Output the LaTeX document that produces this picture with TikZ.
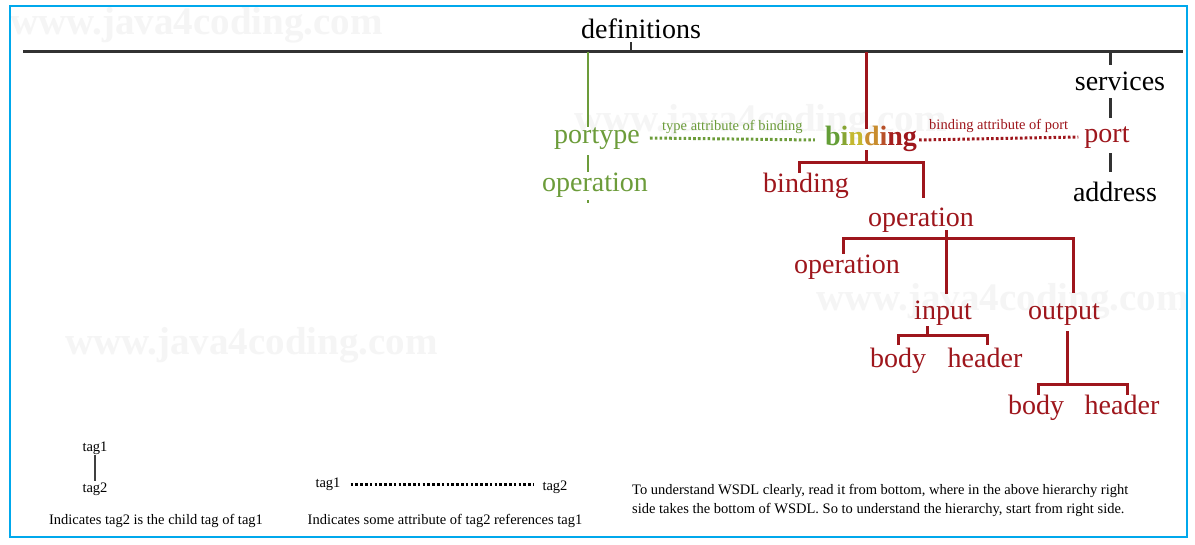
\documentclass[tikz,border=0pt]{standalone}
\usepackage{fontspec}
\setmainfont{Liberation Serif}
\usetikzlibrary{calc}
\definecolor{gr}{RGB}{108,156,58}
\definecolor{rd}{RGB}{158,22,28}
\definecolor{bk}{RGB}{50,50,50}
\definecolor{frame}{RGB}{0,168,236}
\definecolor{wmark}{RGB}{245,245,245}
\definecolor{cA}{RGB}{100,158,55}
\definecolor{cB}{RGB}{135,165,50}
\definecolor{cC}{RGB}{196,184,48}
\definecolor{cD}{RGB}{200,140,45}
\definecolor{cE}{RGB}{184,80,40}
\definecolor{cF}{RGB}{165,32,30}
\definecolor{cG}{RGB}{158,22,28}
\begin{document}
\begin{tikzpicture}[x=1pt,y=-1pt,
  lbl/.style={font=\fontsize{28}{30}\selectfont, inner sep=0pt, text height=19pt, text depth=6pt, anchor=base},
  sm/.style={font=\fontsize{14.5}{17}\selectfont, inner sep=0pt, text height=10pt, text depth=3pt, anchor=base},
  wm/.style={font=\fontsize{39}{40}\selectfont\bfseries, text=wmark, inner sep=0pt, anchor=base west},
  blk/.style={draw=bk, line width=3pt},
  gl/.style={draw=gr, line width=2pt},
  rl/.style={draw=rd, line width=3pt},
  gdot/.style={draw=gr, line width=3pt, dash pattern=on 2.6pt off 2.2pt},
  rdot/.style={draw=rd, line width=3pt, dash pattern=on 2.6pt off 2.2pt},
  kdot/.style={draw=black, line width=3pt, dash pattern=on 2.6pt off 2.2pt}
]
\useasboundingbox (0,0) rectangle (1195,545);
\fill[white] (0,0) rectangle (1195,545);
% watermarks
\node[wm] (wm1) at (10,35) {www.java4coding.com};
\node[wm] (wm2) at (65,355) {www.java4coding.com};
\node[wm] (wm3) at (816,311) {www.java4coding.com};
\node[wm] (wm4) at (574,132) {www.java4coding.com};
% frame
\draw[frame, line width=1.5pt] (10,6) rectangle (1187,537);

% root
\node[lbl] (def) at (641,39) {definitions};
\coordinate (mL) at (23,52);
\coordinate (mR) at (1183,52);
\draw[blk] (mL) -- (mR);
\coordinate (dT) at (631,52);
\draw[draw=bk, line width=2pt, shorten >=-3pt] (dT) -- (dT |- def.south);

% portType branch (green)
\coordinate (gT) at (588,52);
\node[lbl, text=gr] (pt) at (597,144) {portype};
\node[lbl, text=gr] (gop) at (595,192) {operation};
\draw[gl, shorten >=-2pt] (gT) -- (gT |- pt.north);
\draw[gl, shorten <=5pt, shorten >=1pt] (gT |- pt.south) -- (gT |- gop.north);
\draw[gl] ($(gT |- gop.south)+(0,2)$) -- ++(0,3);

% binding (gradient)
\coordinate (rT) at (866,52);
\node[lbl, font=\fontsize{28}{30}\selectfont\bfseries] (bnd) at (871,146)
  {\textcolor{cA}{b}\textcolor{cB}{i}\textcolor{cC}{n}\textcolor{cD}{d}\textcolor{cE}{i}\textcolor{cF}{n}\textcolor{cG}{g}};
\draw[rl, shorten >=-2pt] (rT) -- (rT |- bnd.north);

% service branch (black)
\coordinate (sT) at (1110,52);
\node[lbl] (srv) at (1120,91) {services};
\node[lbl, text=rd] (port) at (1107,143) {port};
\node[lbl] (addr) at (1115,202) {address};
\draw[blk, shorten >=7pt] (sT) -- (sT |- srv.north);
\draw[blk, shorten <=1pt, shorten >=6pt] (sT |- srv.south) -- (sT |- port.north);
\draw[blk, shorten <=4pt, shorten >=11pt] (sT |- port.south) -- (sT |- addr.north);

% reference (dotted) links
\draw[gdot] ($(pt.base east)+(10,-6)$) -- node[sm, text=gr, midway, yshift=8pt] (lab1) {type attribute of binding} ($(bnd.base west)+(-10,-6)$);
\draw[rdot] ($(bnd.base east)+(2,-6)$) -- node[sm, text=rd, midway, yshift=9pt] (lab2) {binding attribute of port} ($(port.base west)+(-6,-6)$);

% binding subtree
\node[lbl, text=rd] (bch) at (806,193) {binding};
\node[lbl, text=rd] (op1) at (921,227) {operation};
\coordinate (b1) at (866,163);
\coordinate (b1L) at (799,163);
\coordinate (b1R) at (923,163);
\draw[rl, shorten <=-2pt] (rT |- bnd.south) -- (b1);
\draw[rl, shorten <=1pt, shorten >=10pt] (b1L |- bch.north) -- (b1L) -- (b1R) -- (b1R |- op1.north);

% operation subtree
\node[lbl, text=rd] (op2) at (847,274) {operation};
\node[lbl, text=rd] (inp) at (943,320) {input};
\node[lbl, text=rd] (out) at (1064,320) {output};
\coordinate (o1) at (946,239);
\coordinate (o1L) at (843,239);
\coordinate (o1R) at (1073,239);
\draw[rl, shorten <=-3pt, shorten >=7pt] (o1 |- op1.south) -- (o1 |- inp.north);
\draw[rl, shorten <=1pt, shorten >=8pt] (o1L |- op2.north) -- (o1L) -- (o1R) -- (o1R |- out.north);

% input subtree
\node[lbl, text=rd] (bdy1) at (898,368) {body};
\node[lbl, text=rd] (hdr1) at (985,368) {header};
\coordinate (i1) at (927,336);
\coordinate (i1L) at (898,336);
\coordinate (i1R) at (987,336);
\draw[rl] (i1 |- inp.south) -- (i1);
\draw[rl, shorten <=4pt, shorten >=4pt] (i1L |- bdy1.north) -- (i1L) -- (i1R) -- (i1R |- hdr1.north);

% output subtree
\node[lbl, text=rd] (bdy2) at (1036,414) {body};
\node[lbl, text=rd] (hdr2) at (1122,414) {header};
\coordinate (u1) at (1067,385);
\coordinate (u1L) at (1038,385);
\coordinate (u1R) at (1127,385);
\draw[rl, shorten <=5pt] (u1 |- out.south) -- (u1);
\draw[rl] (u1L |- bdy2.north) -- (u1L) -- (u1R) -- (u1R |- hdr2.north);

% legend: child
\node[sm] (t1a) at (95,451) {tag1};
\node[sm] (t2a) at (95,492) {tag2};
\draw[draw=black!75, line width=1.3pt, shorten <=1pt, shorten >=1pt] (t1a.south) -- (t2a.north);
\node[sm] (leg1) at (156,524) {Indicates tag2 is the child tag of tag1};

% legend: reference
\node[sm] (t1b) at (328,487) {tag1};
\node[sm] (t2b) at (555,490) {tag2};
\draw[kdot] ($(t1b.base east)+(10,-3)$) -- ($(t1b.base east -| t2b.base west)+(-9,-3)$);
\node[sm] (leg2) at (445,524) {Indicates some attribute of tag2 references tag1};

% note
\node[sm, anchor=base west] (para1) at (632,494) {To understand WSDL clearly, read it from bottom, where in the above hierarchy right};
\node[sm, anchor=base west] (para2) at (632,513) {side takes the bottom of WSDL. So to understand the hierarchy, start from right side.};
\end{tikzpicture}
\end{document}
